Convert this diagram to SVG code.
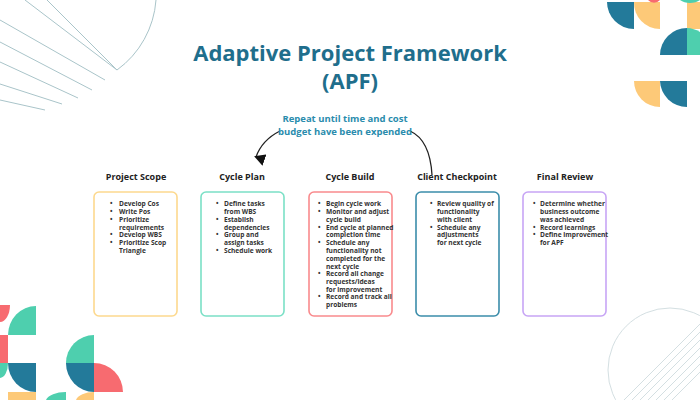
<svg xmlns="http://www.w3.org/2000/svg" width="700" height="400" viewBox="0 0 700 400">
<style>
.t{font-family:"Open Sans","Liberation Sans",sans-serif;font-weight:700}
.h{font-size:9px;fill:#222;text-anchor:middle}
.b{font-size:6.6px;fill:#333}
.box{fill:#fff;stroke-width:1.6}
.deco{stroke:#a9c4c9;stroke-width:1;fill:none}
</style>
<defs>
<marker id="ah" markerWidth="12" markerHeight="12" refX="6" refY="9" orient="auto-start-reverse" markerUnits="userSpaceOnUse"><path d="M0,0 L12,0 L6,11 Z" fill="#111"/></marker>
<clipPath id="cc"><circle cx="670" cy="370" r="62"/></clipPath>
</defs>
<rect width="700" height="400" fill="#fff"/>
<g id="decor">
<g class="deco">
<line x1="25" y1="0" x2="117" y2="70"/><line x1="0" y1="20" x2="105" y2="80"/>
<line x1="0" y1="42" x2="92" y2="90"/><line x1="0" y1="62" x2="78" y2="98"/>
<line x1="0" y1="84" x2="62" y2="104"/><line x1="0" y1="100" x2="45" y2="110"/>
<line x1="47" y1="0" x2="117" y2="70"/>
<path d="M156,0 A95,95 0 0 1 117,70"/>
<circle cx="670" cy="370" r="62" stroke="#d4dfe2"/>
<g clip-path="url(#cc)" stroke="#d4dfe2">
<line x1="640" y1="400" x2="710" y2="330"/><line x1="648" y1="400" x2="710" y2="338"/>
<line x1="656" y1="400" x2="710" y2="346"/><line x1="664" y1="400" x2="710" y2="354"/>
<line x1="672" y1="400" x2="710" y2="362"/><line x1="632" y1="400" x2="710" y2="322"/>
<line x1="624" y1="400" x2="710" y2="314"/>
</g>
</g>
<path d="M634,2 L607,2 A27,27 0 0 0 634,29 Z" fill="#237a9a"/>
<path d="M660,2 L634,2 A26,26 0 0 0 660,29 Z" fill="#fdc978"/>
<rect x="687" y="2" width="13" height="27" fill="#fdc978"/>
<path d="M687,55 L660,55 A27,27 0 0 1 687,28 Z" fill="#237a9a"/>
<path d="M687,28 A27,27 0 0 1 700,32 L700,55 L687,55 Z" fill="#4ecfae"/>
<path d="M648,0 A8,8 0 0 0 660,0 Z" fill="#f76b70"/>
<path d="M680,0 A14,10 0 0 0 700,0 Z" fill="#4ecfae"/>
<path d="M634,81 L660,81 L660,107 A26,26 0 0 1 634,81 Z" fill="#fdc978"/>
<path d="M687,81 L687,107 A27,27 0 0 1 660,81 Z" fill="#237a9a"/>
<path d="M0,305 L10,305 A10,17 0 0 1 0,322 Z" fill="#f76b70"/>
<path d="M36,306 L36,335 L8,335 A28,29 0 0 1 36,306 Z" fill="#4ecfae"/>
<rect x="0" y="335" width="8" height="28" fill="#f76b70"/>
<path d="M0,363 L8,363 A8,15 0 0 1 0,378 Z" fill="#4ecfae"/>
<path d="M8,363 L36,363 L36,392 A28,29 0 0 1 8,363 Z" fill="#237a9a"/>
<rect x="8" y="392" width="28" height="8" fill="#fdc978"/>
<path d="M94,335 L94,363 L66,363 A28,28 0 0 1 94,335 Z" fill="#4ecfae"/>
<path d="M66,363 L94,363 L94,392 A28,29 0 0 1 66,363 Z" fill="#237a9a"/>
<path d="M94,363 A29,29 0 0 1 123,392 L94,392 Z" fill="#f76b70"/>
<path d="M46,400 A20,10 0 0 1 66,392 L66,400 Z" fill="#4ecfae"/>
<path d="M76,400 A18,10 0 0 1 94,392 L94,400 Z" fill="#fdc978"/>
</g>
<g id="title" class="t" fill="#1f6e8c" font-size="22" text-anchor="middle">
<text x="350" y="61">Adaptive Project Framework</text>
<text x="350" y="89">(APF)</text>
</g>
<g id="connectors" fill="none" stroke="#222" stroke-width="1.3">
<path d="M280,131 Q262,140 256,157" marker-end="url(#ah)"/>
<path d="M410,131 Q430,140 432,175"/>
</g>
<g id="loop-label" class="t" fill="#2a8cad" font-size="9.5" text-anchor="middle">
<text x="345" y="122">Repeat until time and cost</text>
<text x="345" y="135">budget have been expended</text>
</g>
<g id="n1">
<text class="t h" x="136" y="180">Project Scope</text>
<rect class="box" x="94" y="192" width="83" height="124" rx="5" stroke="#fdd98e"/>
<g class="t b"><text x="110" y="206">• </text><text x="110" y="214">• </text><text x="110" y="222">• </text><text x="110" y="237">• </text><text x="110" y="245">• </text>
<text x="119" y="206">Develop Cos</text><text x="119" y="214">Write Pos</text><text x="119" y="222">Prioritize</text><text x="119" y="229.5">requirements</text><text x="119" y="237">Develop WBS</text><text x="119" y="245">Prioritize Scop</text><text x="119" y="252.5">Triangle</text></g>
</g>
<g id="n2">
<text class="t h" x="242" y="180">Cycle Plan</text>
<rect class="box" x="201" y="192" width="83" height="124" rx="5" stroke="#7be0c6"/>
<g class="t b"><text x="216" y="206">• </text><text x="216" y="222">• </text><text x="216" y="237">• </text><text x="216" y="253">• </text>
<text x="224" y="206">Define tasks</text><text x="224" y="214">from WBS</text><text x="224" y="222">Establish</text><text x="224" y="229.5">dependencies</text><text x="224" y="237">Group and</text><text x="224" y="245">assign tasks</text><text x="224" y="253">Schedule work</text></g>
</g>
<g id="n3">
<text class="t h" x="350" y="180">Cycle Build</text>
<rect class="box" x="309" y="192" width="83" height="124" rx="5" stroke="#f98a8d"/>
<g class="t b"><text x="318" y="206">• </text><text x="318" y="214">• </text><text x="318" y="229.5">• </text><text x="318" y="245">• </text><text x="318" y="276">• </text><text x="318" y="299">• </text>
<text x="326" y="206">Begin cycle work</text><text x="326" y="214">Monitor and adjust</text><text x="326" y="222">cycle build</text><text x="326" y="229.5">End cycle at planned</text><text x="326" y="237">completion time</text><text x="326" y="245">Schedule any</text><text x="326" y="253">functionality not</text><text x="326" y="261">completed for the</text><text x="326" y="268.5">next cycle</text><text x="326" y="276">Record all change</text><text x="326" y="284">requests/ideas</text><text x="326" y="291.5">for improvement</text><text x="326" y="299">Record and track all</text><text x="326" y="307">problems</text></g>
</g>
<g id="n4">
<text class="t h" x="457" y="180">Client Checkpoint</text>
<rect class="box" x="416" y="192" width="83" height="124" rx="5" stroke="#3b8daa"/>
<g class="t b"><text x="430" y="206">• </text><text x="430" y="229.5">• </text>
<text x="437" y="206">Review quality of</text><text x="437" y="214">functionality</text><text x="437" y="222">with client</text><text x="437" y="229.5">Schedule any</text><text x="437" y="237">adjustments</text><text x="437" y="245">for next cycle</text></g>
</g>
<g id="n5">
<text class="t h" x="565" y="180">Final Review</text>
<rect class="box" x="523" y="192" width="83" height="124" rx="5" stroke="#c7a5f5"/>
<g class="t b"><text x="533" y="206">• </text><text x="533" y="229.5">• </text><text x="533" y="237">• </text>
<text x="540" y="206">Determine whether</text><text x="540" y="214">business outcome</text><text x="540" y="222">was achieved</text><text x="540" y="229.5">Record learnings</text><text x="540" y="237">Define improvement</text><text x="540" y="245">for APF</text></g>
</g>
</svg>
